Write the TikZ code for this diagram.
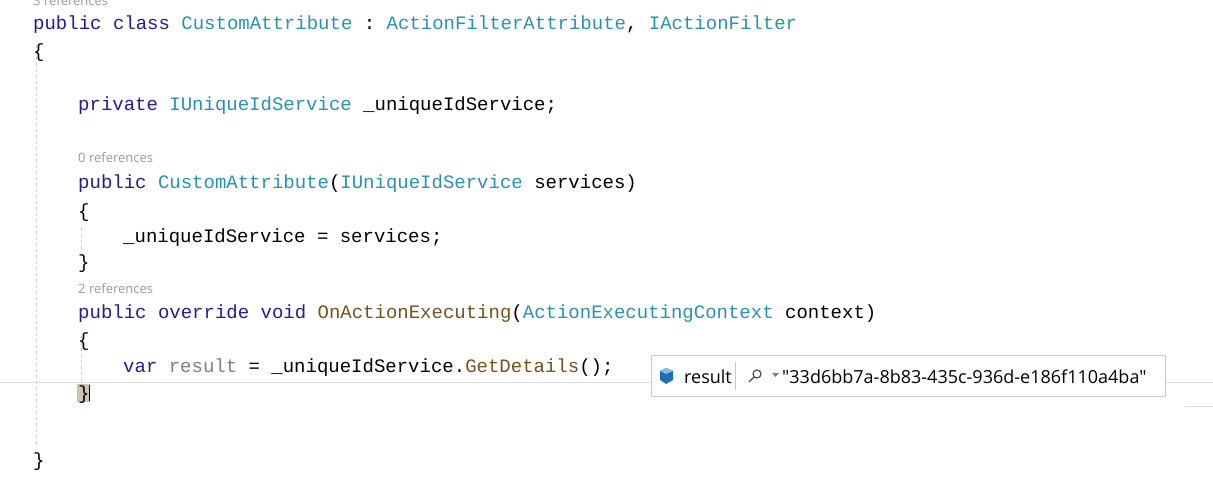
\documentclass[tikz,border=0pt]{standalone}
\usepackage{fontspec}
\setmonofont{Liberation Mono}
\setsansfont{Open Sans}
\newfontfamily\tipfont{Open Sans}[Ligatures=TeXOff]
\usepackage{tikz}
\definecolor{kw}{HTML}{1F1F8F}
\definecolor{ty}{HTML}{2B91AF}
\definecolor{fn}{HTML}{74531F}
\definecolor{refc}{HTML}{9A9A9A}
\definecolor{guide}{HTML}{C8C8C8}
\definecolor{icon}{HTML}{1E6FB5}
\newcommand{\kw}[1]{\textcolor{kw}{#1}}
\newcommand{\ty}[1]{\textcolor{ty}{#1}}
\newcommand{\fn}[1]{\textcolor{fn}{#1}}
\tikzset{
  code/.style={anchor=base west, inner sep=0pt, font=\fontsize{19}{19}\ttfamily},
  refs/.style={anchor=base west, inner sep=0pt, text=refc, font=\fontsize{13}{13}\sffamily},
  tiptext/.style={anchor=base west, inner sep=0pt, font=\fontsize{18}{18}\tipfont},
  guideline/.style={draw=guide, dashed, line width=1pt}
}
\begin{document}
\begin{tikzpicture}[x=1pt,y=-1pt]
    \useasboundingbox[fill=white] (0,0) rectangle (1213,486);

    % indent guides and separators
    \draw[guideline] (36,45) -- (36,446);
    \draw[guideline] (81,228) -- (81,256);
    \draw[guideline] (81,336) -- (81,384);
    \draw[guide!60, line width=0.8pt] (0,382) -- (651,382);
    \draw[guide!60, line width=0.8pt] (1165,382) -- (1213,382);
    \draw[guide!60, line width=0.8pt] (1185,406) -- (1213,406);

    \node[refs] (r0) at (33,6) {3 references};
    \node[code] (l1) at (33,30) {\kw{public} \kw{class} \ty{CustomAttribute} : \ty{ActionFilterAttribute}, \ty{IActionFilter}};
    \node[code] (l2) at (33,58) {\{};
    \node[code] (l3) at (78,111) {\kw{private} \ty{IUniqueIdService} \_uniqueIdService;};
    \node[refs] (r1) at (78,163) {0 references};
    \node[code] (l4) at (78,189) {\kw{public} \ty{CustomAttribute}(\ty{IUniqueIdService} services)};
    \node[code] (l5) at (78,218) {\{};
    \node[code] (l6) at (123,243) {\_uniqueIdService = services;};
    \node[code] (l7) at (78,269) {\}};
    \node[refs] (r2) at (78,294) {2 references};
    \node[code] (l8) at (78,319) {\kw{public} \kw{override} \kw{void} \fn{OnActionExecuting}(\ty{ActionExecutingContext} context)};
    \node[code] (l9) at (78,347) {\{};
    \node[code] (l10) at (123,373) {\kw{var} \textcolor{gray}{result} = \_uniqueIdService.\fn{GetDetails}();};
    \fill[fn!35] (77,384) rectangle (90,402);
    \node[code] (l11) at (78,399) {\}};
    \draw[black, line width=1pt] (89,385) -- (89,401);
    \node[code] (l12) at (33,466) {\}};

    % data tip
    \node[draw=guide, fill=white, line width=1pt, minimum width=514pt, minimum height=41pt,
          inner sep=0pt, anchor=north west] (tip) at (651,355) {};
    \fill[icon] (660,371) -- (666,368) -- (673,371) -- (673,380) -- (666,384) -- (660,380) -- cycle;
    \fill[icon!50!white] (660,371) -- (666,368) -- (673,371) -- (666,374) -- cycle;
    \node[tiptext] (tipname) at (684,383) {result};
    \draw[guide] (735,362) -- (735,390);
    \draw[black!70, line width=1.2pt] (757,374) circle (4pt) (754,377) -- (749,382);
    \fill[gray] (772,373) -- (779,373) -- (775.5,377) -- cycle;
    \node[tiptext] (tipval) at (782,383) {"33d6bb7a-8b83-435c-936d-e186f110a4ba"};
\end{tikzpicture}
\end{document}
